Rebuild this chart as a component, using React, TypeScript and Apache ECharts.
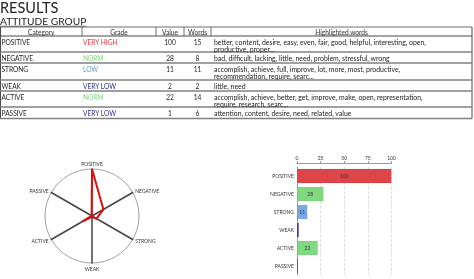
import React, { useEffect, useRef } from 'react';
import * as echarts from 'echarts';

const categories = ['POSITIVE', 'NEGATIVE', 'STRONG', 'WEAK', 'ACTIVE', 'PASSIVE'];
const grades = ['VERY HIGH', 'NORM', 'LOW', 'VERY LOW', 'NORM', 'VERY LOW'];
const values = [100, 28, 11, 2, 22, 1];
const wordCounts = [15, 8, 11, 2, 14, 6];
const highlightedWords = [
  ['better, content, desire, easy, even, fair, good, helpful, interesting, open,', 'productive, proper...'],
  ['bad, difficult, lacking, little, need, problem, stressful, wrong'],
  ['accomplish, achieve, full, improve, lot, more, most, productive,', 'recommendation, require, searc...'],
  ['little, need'],
  ['accomplish, achieve, better, get, improve, make, open, representation,', 'require, research, searc...'],
  ['attention, content, desire, need, related, value'],
];
const headers = ['Category', 'Grade', 'Value', 'Words', 'Highlighted words'];
const xTicks = [0, 25, 50, 75, 100];
const title = 'RESULTS';
const subtitle = 'ATTITUDE GROUP';

const gradeColors: Record<string, string> = {
  'VERY HIGH': '#e23b3f',
  NORM: '#84d684',
  LOW: '#6a9fe0',
  'VERY LOW': '#2f2f92',
};
const barColors: Record<string, string> = {
  'VERY HIGH': '#de4549',
  NORM: '#7fd97f',
  LOW: '#7aa9ea',
  'VERY LOW': '#31319c',
};

const FONT = 'Lato, "Open Sans", sans-serif';

function measure(text: string, font: string): number {
  const c = document.createElement('canvas').getContext('2d');
  if (!c) return text.length * 3;
  c.font = font;
  return c.measureText(text).width;
}

function buildTable(): any[] {
  const els: any[] = [];
  const colX = [0.5, 82, 156, 184, 211, 472];
  const rowY = [27, 36, 52, 63, 80, 91, 107, 118.5];
  const cellFont = `6.6px ${FONT}`;
  const wordFont = `6.9px ${FONT}`;
  const dark = '#4a4a4a';
  const line = (x1: number, y1: number, x2: number, y2: number, stroke: string, w: number) =>
    els.push({ type: 'line', shape: { x1, y1, x2, y2 }, style: { stroke, lineWidth: w }, silent: true });
  const text = (t: string, x: number, y: number, fill: string, font: string, align = 'left', va = 'middle') =>
    els.push({
      type: 'text',
      x,
      y,
      style: { text: t, fill, font, align, verticalAlign: va, textAlign: align, textVerticalAlign: va },
      silent: true,
    });

  // titles
  text(title, 0, 0, '#222', `14.5px ${FONT}`, 'left', 'top');
  text(subtitle, 0, 26, '#222', `10.2px ${FONT}`, 'left', 'bottom');
  line(0, 26.2, measure(subtitle, `10.2px ${FONT}`), 26.2, '#333', 0.7);

  // grid lines
  line(0, rowY[0], colX[5], rowY[0], dark, 0.8);
  line(0, rowY[1], colX[5], rowY[1], dark, 1);
  for (let i = 1; i < 5; i++) line(colX[i], rowY[0], colX[i], rowY[1], dark, 0.8);
  line(colX[0], rowY[0], colX[0], rowY[7], dark, 1);
  line(colX[5], rowY[0], colX[5], rowY[7], dark, 1);
  for (let r = 2; r < rowY.length; r++) line(0, rowY[r], colX[5], rowY[r], '#808080', 1.4);

  // headers
  const hy = (rowY[0] + rowY[1]) / 2;
  headers.forEach((h, i) => {
    const cx = (colX[i] + colX[i + 1]) / 2;
    text(h, cx, hy, '#333', cellFont, 'center', 'middle');
    const w = measure(h, cellFont);
    line(cx - w / 2, hy + 3.3, cx + w / 2, hy + 3.3, '#666', 0.5);
  });

  // rows
  categories.forEach((c, r) => {
    const ty = rowY[r + 1] + 5.8;
    text(c, 1.5, ty, '#222', cellFont);
    text(grades[r], colX[1] + 1, ty, gradeColors[grades[r]], cellFont);
    text(String(values[r]), (colX[2] + colX[3]) / 2, ty, '#222', cellFont, 'center');
    text(String(wordCounts[r]), (colX[3] + colX[4]) / 2, ty, '#222', cellFont, 'center');
    highlightedWords[r].forEach((ln, k) => text(ln, colX[4] + 3, ty - 0.3 + k * 7.1, '#222', wordFont));
  });
  return els;
}

// radar drawn counter-clockwise by ECharts, so feed indicators in reverse (after the first)
const radarOrder = [0, 5, 4, 3, 2, 1];

export default function App() {
  const ref = useRef<HTMLDivElement>(null);
  useEffect(() => {
    if (!ref.current) return;
    const chart = echarts.init(ref.current, undefined, { renderer: 'svg' });
    const smallFont = { fontSize: 5, color: '#333', fontFamily: FONT };
    chart.setOption({
      animation: false,
      textStyle: { fontFamily: FONT },
      graphic: buildTable(),
      radar: {
        center: [92, 216],
        radius: 47,
        shape: 'circle',
        startAngle: 90,
        splitNumber: 1,
        indicator: radarOrder.map((i) => ({ name: categories[i], max: 100, min: 0 })),
        axisName: { ...smallFont },
        nameGap: 3,
        axisLine: { lineStyle: { color: '#444', width: 1.5 } },
        splitLine: { lineStyle: { color: '#a0a0a0', width: 1 } },
        splitArea: { show: false },
        axisTick: { show: false },
        axisLabel: { show: false },
      },
      grid: { left: 297, top: 167, width: 94.5, height: 108, containLabel: false },
      xAxis: {
        type: 'value',
        position: 'top',
        min: 0,
        max: 100,
        interval: 25,
        offset: 4,
        axisLine: { show: true, lineStyle: { color: '#999', width: 1 } },
        axisTick: { show: true, length: 2, lineStyle: { color: '#999' } },
        axisLabel: { ...smallFont, margin: 3, formatter: (v: number) => (xTicks.includes(v) ? String(v) : '') },
        splitLine: { show: true, lineStyle: { color: '#d8d8d8', type: 'dashed', width: 0.8 } },
      },
      yAxis: {
        type: 'category',
        inverse: true,
        data: categories,
        axisLine: { show: true, lineStyle: { color: '#999', width: 1 } },
        axisTick: { show: false },
        axisLabel: { ...smallFont, margin: 3 },
      },
      series: [
        {
          type: 'radar',
          symbol: 'none',
          lineStyle: { color: '#e00d0d', width: 2 },
          itemStyle: { color: '#e00d0d' },
          data: [{ value: radarOrder.map((i) => values[i]), name: 'Attitude' }],
        },
        {
          type: 'bar',
          barCategoryGap: '20%',
          data: values.map((v, i) => ({
            value: v,
            itemStyle: {
              color: barColors[grades[i]],
              borderColor: 'rgba(0,0,0,0.15)',
              borderWidth: 0.5,
            },
            label: { show: v >= 5 },
          })),
          label: { show: true, position: 'inside', fontSize: 5, color: '#333', fontFamily: FONT },
        },
      ],
    });
    return () => chart.dispose();
  }, []);
  return <div ref={ref} style={{ position: 'fixed', left: 0, top: 0, width: 474, height: 279 }} />;
}
